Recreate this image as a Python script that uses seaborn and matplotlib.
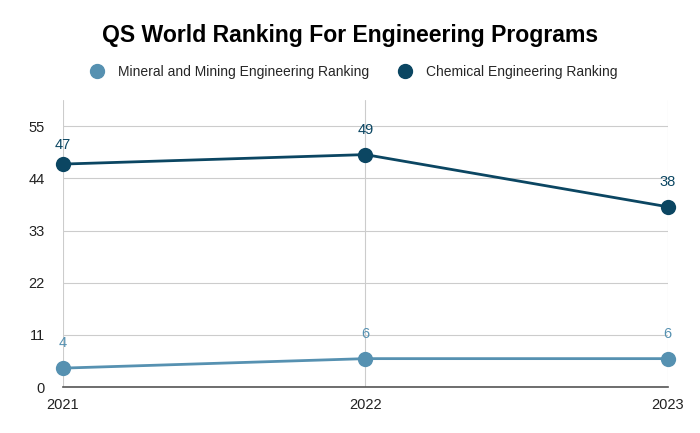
import pandas as pd
import matplotlib.pyplot as plt
import seaborn as sns

years = ["2021", "2022", "2023"]
mineral = [4, 6, 6]
chemical = [47, 49, 38]
series_names = ["Mineral and Mining Engineering Ranking", "Chemical Engineering Ranking"]
colors = ["#5691b1", "#0b4662"]

df = pd.DataFrame({"Year": years * 2,
                   "Rank": mineral + chemical,
                   "Series": [series_names[0]] * 3 + [series_names[1]] * 3})
df["x"] = list(range(3)) * 2

sns.set_theme(style="whitegrid")
plt.rcParams["font.family"] = ["Liberation Sans", "DejaVu Sans"]

fig = plt.figure(figsize=(7, 4.33), dpi=100)
ax = fig.add_axes([0.09, 0.106, 0.864, 0.663])

sns.lineplot(data=df, x="x", y="Rank", hue="Series", palette=colors, marker="o",
             markersize=11, markeredgewidth=0, linewidth=2, ax=ax, legend=False)
for ln in ax.lines:
    ln.set_clip_on(False)
    ln.set_zorder(5)

for name, col in zip(series_names, colors):
    sub = df[df["Series"] == name]
    for xv, yv in zip(sub["x"], sub["Rank"]):
        dy = 9 if yv == 47 else 13
        ax.annotate(str(yv), (xv, yv), xytext=(0, dy), textcoords="offset points",
                    ha="center", va="bottom", color=col, fontsize=10.5)

ax.set_xlim(0, 2)
ax.set_ylim(0, 60.5)
ax.set_xticks(range(3))
ax.set_xticklabels(years)
ax.set_yticks([0, 11, 22, 33, 44, 55])
ax.set_xlabel("")
ax.set_ylabel("")
ax.tick_params(axis="y", labelsize=10.5, colors="#222222", length=0, pad=13)
ax.tick_params(axis="x", labelsize=10.5, colors="#222222", length=0, pad=8)
ax.grid(True, color="#cccccc", linewidth=0.8)
for s in ["top", "right", "left"]:
    ax.spines[s].set_visible(False)
ax.spines["bottom"].set_color("#555555")
ax.spines["bottom"].set_linewidth(1.2)

handles = [plt.Line2D([], [], marker="o", linestyle="", markersize=10, color=c) for c in colors]
fig.legend(handles, series_names, loc="center", bbox_to_anchor=(0.5, 0.833), ncol=2,
           frameon=False, fontsize=10, handletextpad=0.5, columnspacing=1.6)
fig.suptitle("QS World Ranking For Engineering Programs", y=0.945, fontsize=16.6,
             fontweight="bold", color="black")

fig.savefig("out.png", dpi=100)
